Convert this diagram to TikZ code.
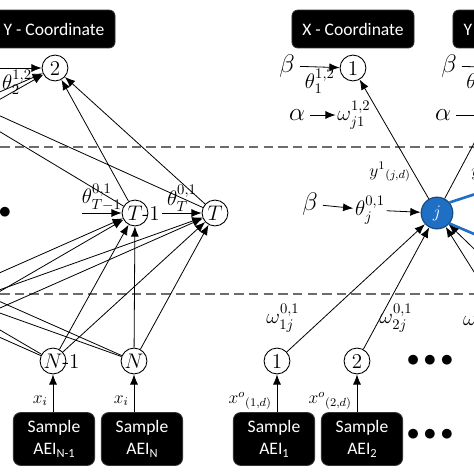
\documentclass[tikz,border=0pt]{standalone}
\usepackage{amsmath}
\usepackage{fontspec}
\usepackage{tikz}
\usetikzlibrary{arrows.meta}
\newfontfamily\boxfont{Carlito}
\definecolor{jblue}{HTML}{1F6FC5}
\definecolor{jedge}{HTML}{174A80}
\newcommand{\aeisub}[1]{\raisebox{-0.45ex}{\fontsize{8.5}{9}\selectfont #1}}
\newcommand{\bulletrow}{$\bullet\mkern-1mu\bullet\mkern-1mu\bullet$}

\tikzset{
  neuron/.style={circle, draw, line width=0.6pt, minimum size=0.62cm, inner sep=0pt, font=\Large},
  jnode/.style={circle, draw=jedge, line width=0.8pt, fill=jblue, text=white, minimum size=0.76cm, inner sep=0pt, font=\large},
  outbox/.style={rounded corners=4pt, fill=black, draw=black!80, text=white, font=\boxfont\fontsize{12}{14}\selectfont, minimum width=2.93cm, minimum height=0.91cm},
  sampbox/.style={rounded corners=5pt, fill=black, draw=black!80, text=white, font=\boxfont\fontsize{12}{15}\selectfont, align=center, minimum width=1.95cm, minimum height=1.27cm, inner sep=1pt},
  layer/.style={gray!85!black, line width=0.8pt, dash pattern=on 6.5pt off 3.5pt},
  wlabel/.style={font=\Large, inner sep=1pt},
  xlabel/.style={font=\large},
  greek/.style={font=\LARGE},
  dots/.style={font=\LARGE, inner sep=0pt}
}

\begin{document}
\begin{tikzpicture}[x=0.024cm, y=-0.024cm, >={Latex[length=7pt,width=5.5pt]}, line width=0.55pt]
\useasboundingbox (0,0) rectangle (474,474);
\clip (0,0) rectangle (474,474);
% layer borders
\draw [layer] (0,147) -- (474,147);
\draw [layer] (0,294) -- (474,294);

% left network
\node [outbox] (ybox) at (54,29) {Y - Coordinate};
\node [neuron] (o2) at (55,68) {2};
\coordinate (o1) at (-106,68);
\coordinate (bo2) at (-20,68);
\coordinate (h1) at (-280,213);
\coordinate (h2) at (-200,213);
\node [dots] (hdots) at (-12,213) {\bulletrow};
\node [neuron] (tm1) at (135,213) {$T$\rlap{-1}};
\node [neuron] (tt) at (215,213) {$T$};
\coordinate (btm1) at (82,213);
\coordinate (btt) at (162,213);
\coordinate (i1) at (-200,361);
\coordinate (i2) at (-120,361);
\node [neuron] (nm1) at (53,361) {$N$\rlap{-1}};
\node [neuron] (nn) at (134,361) {$N$};
\node [sampbox] (snm1) at (54,439) {Sample\\AEI\aeisub{N-1}};
\node [sampbox] (snn) at (142,439) {Sample\\AEI\aeisub{N}};

\draw [->] (bo2) -- (o2) node [wlabel,pos=0.6,below] (th2) {$\theta^{1,2}_2$};
\foreach \h in {h1,h2,tm1,tt} {
  \draw [->] (\h) -- (o2);
  \draw [->] (\h) -- (o1);
}
\foreach \i in {i1,i2,nm1,nn}
  \foreach \h in {h1,h2,tm1,tt}
    \draw [->] (\i) -- (\h);
\draw [->] (btm1) -- (tm1) node [wlabel,midway,above] (thtm1) {$\theta^{0,1}_{T-1}$};
\draw [->] (btt) -- (tt) node [wlabel,midway,above] (thtt) {$\theta^{0,1}_{T}$};
\draw [->] (snm1.north -| nm1) -- (nm1) node [xlabel,pos=0.3,left] (xnm1) {$x_i$};
\draw [->] (snn.north -| nn) -- (nn) node [xlabel,pos=0.3,left] (xnn) {$x_i$};

% neuron j
\node [outbox] (xbox) at (353,29) {X - Coordinate};
\node [outbox] (ybox2) at (514,29) {Y - Coordinate};
\node [neuron] (x1) at (353,68) {1};
\node [neuron] (y2) at (514,68) {2};
\node [greek] (bx) at (287,66) {$\beta$};
\node [greek] (by) at (449,66) {$\beta$};
\draw [->] (bx) -- (x1) node [wlabel,midway,below] (thx) {$\theta^{1,2}_1$};
\draw [->] (by) -- (y2) node [wlabel,midway,below] (thy) {$\theta^{1,2}_2$};
\node [greek] (ax) at (297,115) {$\alpha$};
\node [wlabel] (wx) at (354,115) {$\omega^{1,2}_{j1}$};
\draw [->] (ax) -- (wx);
\node [greek] (ay) at (443,115) {$\alpha$};
\node [wlabel] (wy) at (512,115) {$\omega^{1,2}_{j2}$};
\draw [->] (ay) -- (wy);

\node [jnode] (j) at (437,213) {$j$};
\draw [->] (j) -- (x1);
\draw [->] (j) -- (y2);
\node [xlabel] (yx) at (390,172) {$y^{1}{}_{(j,d)}$};
\node [xlabel] (yy) at (492,172) {$y^{1}{}_{(j,d)}$};
\node [greek] (bj) at (310,204) {$\beta$};
\node [wlabel] (thj) at (370,210) {$\theta^{0,1}_j$};
\draw [->] (bj) -- (thj);
\draw [->] (thj) -- (j);
\coordinate (bl1) at (500,186);
\coordinate (bl2) at (500,245);
\draw [jblue, line width=1.8pt] (j.40) -- (bl1);
\draw [jblue, line width=1.8pt] (j.-40) -- (bl2);

\node [neuron] (in1) at (277,361) {1};
\node [neuron] (in2) at (357,361) {2};
\node [dots] (idots) at (430,361) {\bulletrow};
\coordinate (inN) at (530,361);
\coordinate (inM) at (590,361);
\foreach \i in {in1,in2,inN,inM}
  \draw [->] (\i) -- (j);
\node [wlabel] (w1j) at (283,318) {$\omega^{0,1}_{1j}$};
\node [wlabel] (w2j) at (396,318) {$\omega^{0,1}_{2j}$};
\node [wlabel] (wNj) at (480,320) {$\omega^{0,1}_{Nj}$};
\node [sampbox] (s1) at (274,439) {Sample\\AEI\aeisub{1}};
\node [sampbox] (s2) at (362,439) {Sample\\AEI\aeisub{2}};
\node [dots] (sdots) at (430,435) {\bulletrow};
\draw [->] (s1.north -| in1) -- (in1) node [xlabel,pos=0.3,left] (xo1) {$x^{o}{}_{(1,d)}$};
\draw [->] (s2.north -| in2) -- (in2) node [xlabel,pos=0.3,left] (xo2) {$x^{o}{}_{(2,d)}$};
\end{tikzpicture}
\end{document}
